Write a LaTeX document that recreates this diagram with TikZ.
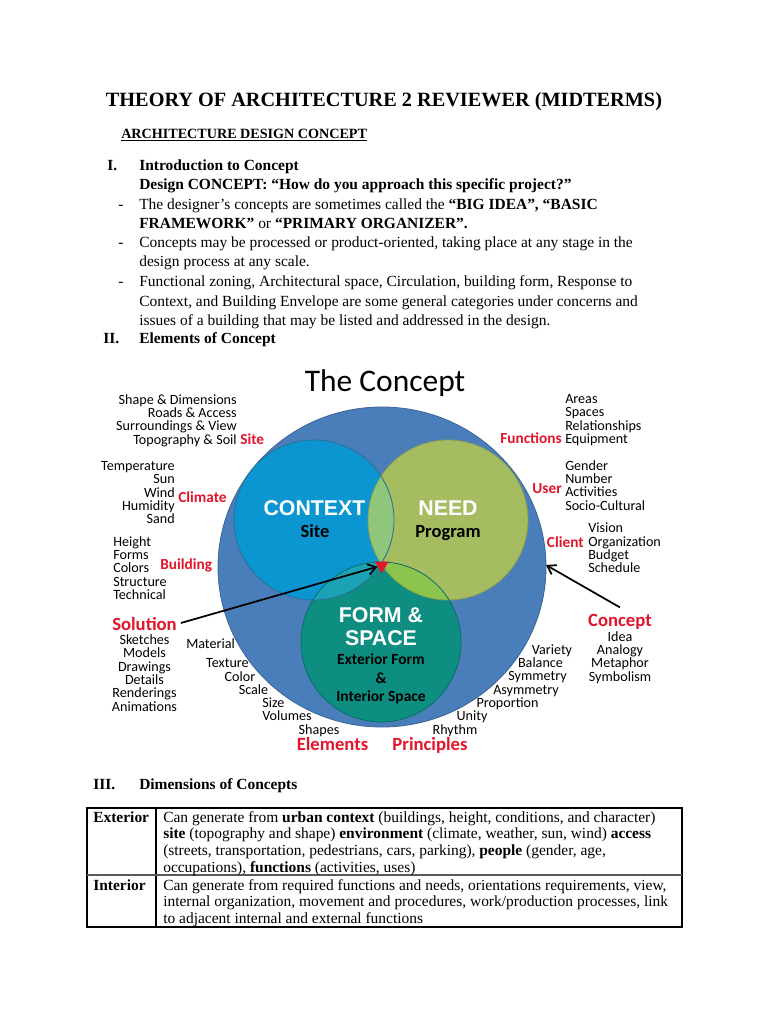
\documentclass[tikz,border=0pt]{standalone}
\usepackage{fontspec}
\setmainfont{Liberation Serif}
\newfontfamily\calfont{Carlito}
\newfontfamily\arialfont{Liberation Sans}
\usepackage{xcolor}
\usepackage{tikz}
\usetikzlibrary{
  arrows.meta,
  positioning,
  shapes.geometric
}
\definecolor{bigblue}{HTML}{4A7EBB}
\definecolor{bigedge}{HTML}{3A6598}
\definecolor{ctxblue}{HTML}{0B96D2}
\definecolor{ctxedge}{HTML}{2A6F98}
\definecolor{needgreen}{HTML}{A5BD60}
\definecolor{neededge}{HTML}{8A9E4E}
\definecolor{ctxneed}{HTML}{8FC67B}
\definecolor{formteal}{HTML}{0E8E80}
\definecolor{formedge}{HTML}{0B6E66}
\definecolor{formctx}{HTML}{1BA3B5}
\definecolor{formneed}{HTML}{8CC54E}
\definecolor{catred}{HTML}{E3152B}
\newcommand{\txtbody}{\fontsize{11.6}{14.6}\selectfont}
\newcommand{\txtdiag}{\calfont\fontsize{10.6}{10}\selectfont}
% hanging marker placed left of a line
\newcommand{\marker}[2]{\llap{\makebox[#1][l]{#2}}}

\begin{document}
\begin{tikzpicture}[
  x=0.75pt, y=-0.75pt,
  body/.style={font=\txtbody, inner sep=0, align=left},
  head/.style={font=\txtbody\bfseries, inner sep=0, align=left},
  cell/.style={font={\fontsize{11.6}{12.5}\selectfont}, inner sep=0, align=left},
  diag/.style={font=\txtdiag, inner sep=0},
  cat/.style={font={\calfont\bfseries\fontsize{11.5}{12}\selectfont}, text=catred, inner sep=0},
  bigcat/.style={font={\calfont\bfseries\fontsize{14}{15}\selectfont}, text=catred, inner sep=0},
  core/.style={font={\arialfont\bfseries\fontsize{16}{18}\selectfont}, text=white, inner sep=0, align=center},
  sub/.style={font={\calfont\bfseries\fontsize{13.9}{15}\selectfont}, inner sep=0},
  ring/.style={line width=0.6pt},
  arr/.style={-{Straight Barb[length=6pt,width=8pt]}, line width=1.3pt, black}
]
  \useasboundingbox (0,0) rectangle (768,1024);
  \fill[white] (0,0) rectangle (768,1024);

  % ── Heading ──
  \node[font={\fontsize{15.2}{18}\selectfont\bfseries}, inner sep=0, anchor=base] (title) at (384,106)
    {THEORY OF ARCHITECTURE 2 REVIEWER (MIDTERMS)};
  \node[font={\fontsize{10.6}{13}\selectfont\bfseries}, inner sep=0, anchor=base west] (arch) at (121,138.5)
    {\underline{ARCHITECTURE DESIGN CONCEPT}};

  % ── I. Introduction ──
  \node[head, anchor=north west] (intro) at (139,159)
    {\marker{24pt}{I.}Introduction to Concept\\Design CONCEPT: “How do you approach this specific project?”};
  \node[body, anchor=north west] (item1) at (139,198)
    {\marker{15.75pt}{-}The designer’s concepts are sometimes called the \textbf{“BIG IDEA”, “BASIC}\\
     \textbf{FRAMEWORK”} or \textbf{“PRIMARY ORGANIZER”.}};
  \node[body, anchor=north west] (item2) at (139,236.5)
    {\marker{15.75pt}{-}Concepts may be processed or product-oriented, taking place at any stage in the\\
     design process at any scale.};
  \node[body, anchor=north west] (item3) at (139,275.5)
    {\marker{15.75pt}{-}Functional zoning, Architectural space, Circulation, building form, Response to\\
     Context, and Building Envelope are some general categories under concerns and\\
     issues of a building that may be listed and addressed in the design.};
  \node[head, anchor=base west] (elem) at (139,343.5) {\marker{27pt}{II.}Elements of Concept};

  % ── Concept diagram: circles ──
  \coordinate (bigc) at (382,567);
  \coordinate (ctxc) at (314,520);
  \coordinate (needc) at (448,520);
  \coordinate (formc) at (381,642);
  \fill[bigblue] (bigc) ellipse [x radius=164, y radius=160];
  \draw[ring, bigedge] (bigc) ellipse [x radius=164, y radius=160];
  \fill[ctxblue] (ctxc) circle [radius=80];
  \fill[needgreen] (needc) circle [radius=80];
  \fill[formteal] (formc) circle [radius=80];
  \begin{scope}
    \clip (ctxc) circle [radius=80];
    \fill[ctxneed] (needc) circle [radius=80];
    \fill[formctx] (formc) circle [radius=80];
  \end{scope}
  \begin{scope}
    \clip (needc) circle [radius=80];
    \fill[formneed] (formc) circle [radius=80];
    \clip (ctxc) circle [radius=80];
    \fill[ctxneed] (formc) circle [radius=80];
  \end{scope}
  \draw[ring, ctxedge] (ctxc) circle [radius=80];
  \draw[ring, neededge] (needc) circle [radius=80];
  \draw[ring, formedge] (formc) circle [radius=80];

  % ── Concept diagram: titles in circles ──
  \node[font={\calfont\fontsize{23.6}{26}\selectfont}, inner sep=0, anchor=base] (concepttitle) at (385,391) {The Concept};
  \node[core, anchor=base] (context) at (314.5,515.7) {CONTEXT};
  \node[sub, anchor=base] (site) at (315,537.5) {Site};
  \node[core, anchor=base] (need) at (448,515.7) {NEED};
  \node[sub, anchor=base] (program) at (448,537.5) {Program};
  \node[core, anchor=base] (form) at (381,622.7) {FORM \&};
  \node[core, anchor=base] (space) at (381,645.7) {SPACE};
  \node[font={\calfont\bfseries\fontsize{11.6}{13.9}\selectfont}, inner sep=0, align=center, anchor=north]
    (formsub) at (381,653.5) {Exterior Form\\\&\\Interior Space};
  \node[regular polygon, regular polygon sides=3, shape border rotate=180, fill=catred,
    minimum size=12pt, inner sep=0] (tri) at (381.7,565.5) {};

  % ── Left labels ──
  \node[diag, align=right, anchor=north east] (sitelist) at (237,394)
    {Shape \& Dimensions\\Roads \& Access\\Surroundings \& View\\Topography \& Soil};
  \node[cat, anchor=base west] (sitecat) at (240,444.5) {Site};
  \node[diag, align=right, anchor=north east] (climlist) at (175,461)
    {Temperature\\Sun\\Wind\\Humidity\\Sand};
  \node[cat, anchor=base west] (climcat) at (178,502.5) {Climate};
  \node[diag, align=left, anchor=north west] (buildlist) at (113,536)
    {Height\\Forms\\Colors\\Structure\\Technical};
  \node[cat, anchor=base west] (buildcat) at (160,569.5) {Building};
  \node[bigcat, anchor=base] (solution) at (144.5,630.6) {Solution};
  \node[diag, align=center, below=2.5pt of solution] (sollist)
    {Sketches\\Models\\Drawings\\Details\\Renderings\\Animations};

  % ── Elements ──
  \node[diag, anchor=base west] (material) at (186,648) {Material};
  \node[diag, anchor=base] (texture) at (227.5,667) {Texture};
  \node[diag, anchor=base] (color) at (240,681) {Color};
  \node[diag, anchor=base] (scale) at (253.5,694) {Scale};
  \node[diag, anchor=base] (size) at (273.5,707) {Size};
  \node[diag, anchor=base] (volumes) at (287,720) {Volumes};
  \node[diag, anchor=base] (shapes) at (319,734) {Shapes};
  \node[bigcat, anchor=base] (elements) at (332.5,750.6) {Elements};

  % ── Principles ──
  \node[diag, anchor=base] (variety) at (552,654) {Variety};
  \node[diag, anchor=base] (balance) at (540.5,667) {Balance};
  \node[diag, anchor=base] (symmetry) at (537.5,680) {Symmetry};
  \node[diag, anchor=base] (asymmetry) at (526,694.5) {Asymmetry};
  \node[diag, anchor=base] (proportion) at (507.5,707.5) {Proportion};
  \node[diag, anchor=base] (unity) at (472,720) {Unity};
  \node[diag, anchor=base] (rhythm) at (455,734) {Rhythm};
  \node[bigcat, anchor=base] (principles) at (430,750.6) {Principles};

  % ── Right labels ──
  \node[diag, align=left, anchor=north west] (funclist) at (565,394)
    {Areas\\Spaces\\Relationships\\Equipment};
  \node[cat, anchor=base east] (funccat) at (562,443.5) {Functions};
  \node[diag, align=left, anchor=north west] (userlist) at (565,460)
    {Gender\\Number\\Activities\\Socio-Cultural};
  \node[cat, anchor=base east] (usercat) at (562,493.5) {User};
  \node[diag, align=left, anchor=north west] (clientlist) at (588,523)
    {Vision\\Organization\\Budget\\Schedule};
  \node[cat, anchor=base east] (clientcat) at (584,547.5) {Client};
  \node[bigcat, anchor=base] (concept) at (620,626.6) {Concept};
  \node[diag, align=center, below=1pt of concept] (conceptlist)
    {Idea\\Analogy\\Metaphor\\Symbolism};

  % ── Arrows ──
  \coordinate (bigE) at (546,565);
  \draw[arr, shorten <=3pt] (solution.east) -- (tri);
  \draw[arr] ([yshift=5pt]concept.north) -- (bigE);

  % ── III. Dimensions ──
  \node[head, anchor=base west] (dims) at (139,789.5) {\marker{34.5pt}{III.}Dimensions of Concepts};

  \draw[line width=0.8pt] (87,808) rectangle (682,927);
  \draw[line width=0.8pt] (156,808) -- (156,927);
  \draw[gray!70!black, line width=1.6pt] (87,875) -- (682,875);

  \node[cell, font={\fontsize{11.6}{12.5}\selectfont\bfseries}, anchor=north west] (ext) at (93,811) {Exterior};
  \node[cell, anchor=north west] (exttext) at (163,811)
    {Can generate from \textbf{urban context} (buildings, height, conditions, and character)\\
     \textbf{site} (topography and shape) \textbf{environment} (climate, weather, sun, wind) \textbf{access}\\
     (streets, transportation, pedestrians, cars, parking), \textbf{people} (gender, age,\\
     occupations), \textbf{functions} (activities, uses)};
  \node[cell, font={\fontsize{11.6}{12.5}\selectfont\bfseries}, anchor=north west] (int) at (93,879) {Interior};
  \node[cell, anchor=north west] (inttext) at (163,879)
    {Can generate from required functions and needs, orientations requirements, view,\\
     internal organization, movement and procedures, work/production processes, link\\
     to adjacent internal and external functions};
\end{tikzpicture}
\end{document}
